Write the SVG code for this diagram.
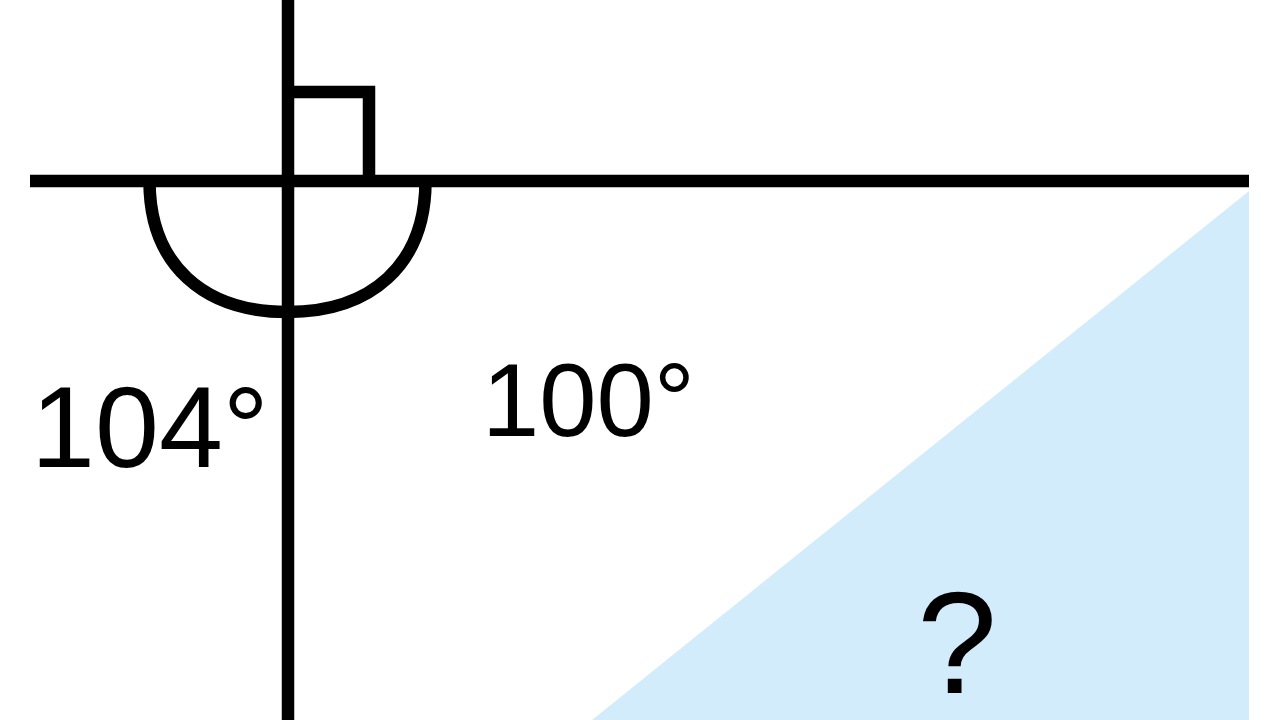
<svg xmlns="http://www.w3.org/2000/svg" width="1280" height="720" viewBox="0 0 1280 720">
  <style>
    .ln { stroke: #000; stroke-width: 12.5; fill: none; }
    .lbl { font-family: "Liberation Sans", Arial, sans-serif; fill: #000; }
  </style>
  <rect width="1280" height="720" fill="#fff"/>
  <g id="region">
    <polygon points="1249,191 1249,720 592,720" fill="#d3ecfb"/>
  </g>
  <g id="connectors">
    <line class="ln" x1="288" y1="0" x2="288" y2="720"/>
    <line class="ln" x1="30" y1="181" x2="1249" y2="181"/>
    <polyline class="ln" points="288,92 369,92 369,181"/>
    <path class="ln" d="M149.5,181 C149.5,265 204,312 287.5,312 C371,312 425.5,265 425.5,181"/>
  </g>
  <g id="labels">
    <text class="lbl" x="31" y="467" font-size="115">104°</text>
    <text class="lbl" x="482" y="436" font-size="103">100°</text>
    <text class="lbl" x="917" y="693" font-size="144">?</text>
  </g>
</svg>
